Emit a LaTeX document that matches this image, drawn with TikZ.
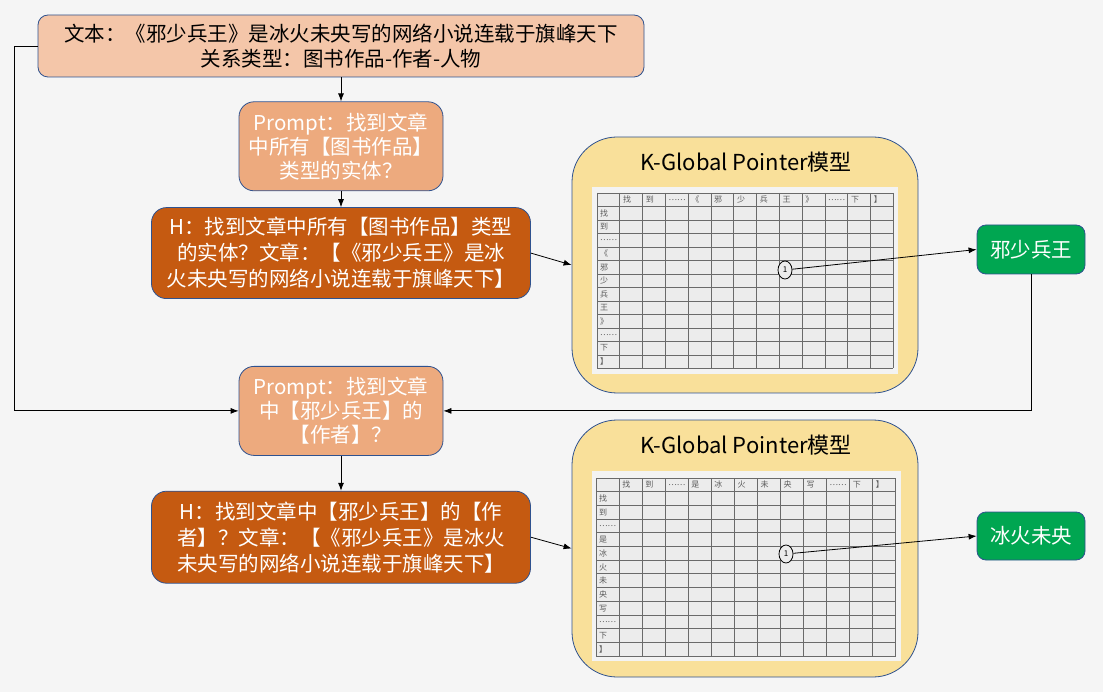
\documentclass[tikz,border=0pt]{standalone}
\usepackage{fontspec}
\setmainfont{Noto Sans CJK SC}
\usetikzlibrary{positioning,arrows.meta,shapes.geometric}

\definecolor{bgGray}{HTML}{F5F5F5}
\definecolor{boxBlue}{HTML}{2F528F}
\definecolor{textSalmon}{HTML}{F4C6A9}
\definecolor{promptOrange}{HTML}{EDAA7E}
\definecolor{queryRust}{HTML}{C55A11}
\definecolor{modelYellow}{HTML}{F9E09A}
\definecolor{answerGreen}{HTML}{00A651}
\definecolor{panelGray}{HTML}{F3F3F3}
\definecolor{cellGray}{HTML}{ECECEC}
\definecolor{lineGray}{HTML}{6A6A6A}

% token x token score grid: x, y, column width, row height, labels
\newcommand{\tokengrid}[5]{%
  \fill[cellGray] (#1,#2) rectangle ++(13*#3,13*#4);
  \foreach \i in {0,...,13} {
    \draw[gridline] (#1+\i*#3,#2) -- ++(0,13*#4);
    \draw[gridline] (#1,#2+\i*#4) -- ++(13*#3,0);
  }
  \foreach \lab [count=\i] in {#5} {
    \node[gridlabel] at (#1+\i*#3+3,#2+0.5*#4) {\lab};
    \node[gridlabel] at (#1+3,#2+\i*#4+0.5*#4) {\lab};
  }%
}

\begin{document}
\begin{tikzpicture}[x=1pt, y=-1pt, >={Latex[length=8pt,width=6pt]},
    box/.style={draw=boxBlue, line width=0.8pt, inner sep=0pt, align=center,
      font=\fontsize{20.5}{25}\selectfont},
    textbox/.style={box, fill=textSalmon, rounded corners=10pt,
      minimum width=606pt, minimum height=62pt},
    promptbox/.style={box, fill=promptOrange, text=white, rounded corners=15pt,
      minimum width=204pt, minimum height=89pt, font=\fontsize{20.5}{24}\selectfont},
    querybox/.style={box, fill=queryRust, text=white, rounded corners=15pt,
      minimum width=379pt, minimum height=91pt, font=\fontsize{20.5}{26}\selectfont},
    modelbox/.style={draw=boxBlue, line width=0.8pt, fill=modelYellow,
      rounded corners=45pt, minimum width=346pt, minimum height=256pt},
    answerbox/.style={box, fill=answerGreen, text=white, rounded corners=9pt,
      minimum width=108pt, minimum height=48pt},
    title/.style={font=\fontsize{22}{22}\selectfont},
    gridline/.style={lineGray, line width=0.9pt},
    gridlabel/.style={anchor=west, inner sep=0pt, text=black!65,
      font=\fontsize{8}{8}\selectfont},
    hit/.style={draw, ellipse, fill=cellGray, minimum width=14pt, minimum height=18pt,
      inner sep=0pt, line width=0.8pt, font=\fontsize{8}{8}\selectfont},
    link/.style={->, line width=0.8pt}]

  \fill[bgGray] (0,0) rectangle (1103,692);

  % left column: text, prompts and queries
  \node[textbox] (text) at (341,46) {文本：《邪少兵王》是冰火未央写的网络小说连载于旗峰天下\\关系类型：图书作品-作者-人物};
  \node[promptbox, below=24pt of text] (prompt1) {Prompt：找到文章\\中所有【图书作品】\\类型的实体？};
  \node[querybox, below=16pt of prompt1] (query1) {H：找到文章中所有【图书作品】类型\\的实体？文章：【《邪少兵王》是冰\\火未央写的网络小说连载于旗峰天下】};
  \node[promptbox, below=67pt of query1] (prompt2) {Prompt：找到文章\\中【邪少兵王】的\\【作者】？};
  \node[querybox, minimum height=92pt, below=35pt of prompt2] (query2) {H：找到文章中【邪少兵王】的【作\\者】？文章：【《邪少兵王》是冰火\\未央写的网络小说连载于旗峰天下】};

  % first model: entity extraction
  \node[modelbox] (model1) at (745,265) {};
  \node[title] (title1) at (746,162) {K-Global Pointer模型};
  \fill[panelGray] (592,187) rectangle (898,374);
  \tokengrid{597}{193}{22.8}{13.5}{找,到,……,《,邪,少,兵,王,》,……,下,】}
  \node[hit] (hit1) at (785,270) {1};
  \node[answerbox, minimum height=49pt] (answer1) at (1031,249.5) {邪少兵王};

  % second model: relation extraction
  \node[modelbox, minimum height=257pt] (model2) at (745,548.5) {};
  \node[title] (title2) at (746,445) {K-Global Pointer模型};
  \fill[panelGray] (592,471) rectangle (901,661);
  \tokengrid{596}{478}{23.05}{13.7}{找,到,……,是,冰,火,未,央,写,……,下,】}
  \node[hit] (hit2) at (786,554) {1};
  \node[answerbox] (answer2) at (1031,536) {冰火未央};

  % connectors
  \coordinate (rail) at (14,46);
  \draw[link] (text) -- (prompt1);
  \draw[link] (prompt1) -- (query1);
  \draw[link] (query1.east) -- (model1.west);
  \draw[link] (hit1) -- (answer1.west);
  \draw[link] (answer1) |- (prompt2);
  \draw[link] (text) -- (rail) |- (prompt2);
  \draw[link] (prompt2) -- (query2);
  \draw[link] (query2.east) -- (model2.west);
  \draw[link] (hit2) -- (answer2.west);
\end{tikzpicture}
\end{document}
